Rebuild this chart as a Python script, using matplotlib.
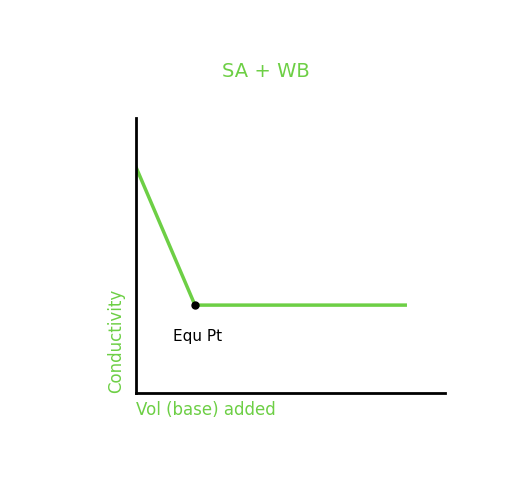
import matplotlib
matplotlib.use("Agg")
import matplotlib.pyplot as plt

vol = [0, 1.9, 8.7]
cond = [8.2, 3.2, 3.2]
eq_x, eq_y = [1.9], [3.2]
title = "SA + WB"
xlabel = "Vol (base) added"
ylabel = "Conductivity"
green = "#6dcf45"

fig = plt.figure(figsize=(5.12, 4.8), dpi=100)
ax = fig.add_axes([0.266, 0.181, 0.604, 0.573])
ax.plot(vol, cond, color=green, lw=2.5)
ax.plot(eq_x, eq_y, 'o', color='black', ms=5)
ax.text(eq_x[0] - 0.7, eq_y[0] - 1.3, "Equ Pt", fontsize=11, color='black')
ax.set_xlim(0, 10)
ax.set_ylim(0, 10)
for s in ['top', 'right']:
    ax.spines[s].set_visible(False)
for s in ['left', 'bottom']:
    ax.spines[s].set_linewidth(2)
    ax.spines[s].set_color('black')
ax.set_xticks([])
ax.set_yticks([])
ax.set_xlabel(xlabel, color=green, fontsize=12, loc='left', labelpad=6)
ax.set_ylabel(ylabel, color=green, fontsize=12, loc='bottom', labelpad=8)
fig.text(0.52, 0.84, title, color=green, fontsize=14, ha='center')
fig.savefig("out.png")
